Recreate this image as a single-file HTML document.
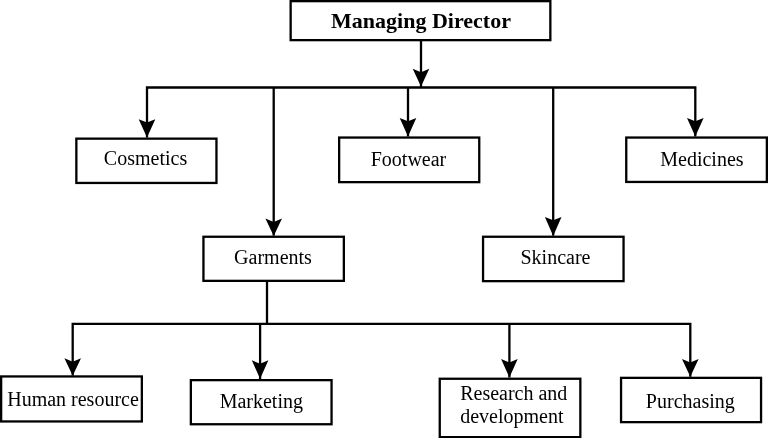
<!DOCTYPE html><html><head><meta charset="utf-8"><style>html,body{margin:0;padding:0;background:#fff;width:768px;height:438px;overflow:hidden}svg{display:block;will-change:transform}text{font-family:"Liberation Serif",serif;fill:#000}</style></head><body>
<svg width="768" height="438" viewBox="0 0 768 438">
<rect x="290.65" y="1.15" width="259.7" height="39.0" fill="none" stroke="#000" stroke-width="2.3"/>
<rect x="76.35000000000001" y="138.65" width="140.09999999999997" height="44.3" fill="none" stroke="#000" stroke-width="2.3"/>
<rect x="339.15" y="137.55" width="140.09999999999997" height="44.60000000000001" fill="none" stroke="#000" stroke-width="2.3"/>
<rect x="626.25" y="137.55" width="140.59999999999997" height="44.39999999999999" fill="none" stroke="#000" stroke-width="2.3"/>
<rect x="203.45000000000002" y="236.75" width="140.39999999999998" height="44.10000000000001" fill="none" stroke="#000" stroke-width="2.3"/>
<rect x="483.04999999999995" y="236.75" width="140.50000000000006" height="44.40000000000002" fill="none" stroke="#000" stroke-width="2.3"/>
<rect x="1.15" y="376.45" width="140.7" height="45.000000000000014" fill="none" stroke="#000" stroke-width="2.3"/>
<rect x="190.85" y="380.15" width="140.7" height="44.09999999999998" fill="none" stroke="#000" stroke-width="2.3"/>
<rect x="439.75" y="378.75" width="140.59999999999997" height="58.39999999999999" fill="none" stroke="#000" stroke-width="2.3"/>
<rect x="621.05" y="377.84999999999997" width="140.00000000000006" height="44.300000000000026" fill="none" stroke="#000" stroke-width="2.3"/>
<path d="M421,41 V87" fill="none" stroke="#000" stroke-width="2.3" stroke-linejoin="miter"/>
<path d="M147,137.5 V87.5 H695.3 V136.5" fill="none" stroke="#000" stroke-width="2.3" stroke-linejoin="miter"/>
<path d="M408,87.5 V136.5" fill="none" stroke="#000" stroke-width="2.3" stroke-linejoin="miter"/>
<path d="M273.7,87.5 V235.6" fill="none" stroke="#000" stroke-width="2.3" stroke-linejoin="miter"/>
<path d="M553.2,87.5 V235.6" fill="none" stroke="#000" stroke-width="2.3" stroke-linejoin="miter"/>
<path d="M267,282 V324" fill="none" stroke="#000" stroke-width="2.3" stroke-linejoin="miter"/>
<path d="M72.7,375.6 V323.9 H690.3 V376.7" fill="none" stroke="#000" stroke-width="2.3" stroke-linejoin="miter"/>
<path d="M260.1,323.9 V379" fill="none" stroke="#000" stroke-width="2.3" stroke-linejoin="miter"/>
<path d="M509.4,323.9 V377.5" fill="none" stroke="#000" stroke-width="2.3" stroke-linejoin="miter"/>
<path d="M421,86.6 L412.70,68.80 L421,72.20 L429.30,68.80 Z" fill="#000"/>
<path d="M147,137.6 L138.70,119.20 L147,122.60 L155.30,119.20 Z" fill="#000"/>
<path d="M408,136.6 L399.70,117.90 L408,121.30 L416.30,117.90 Z" fill="#000"/>
<path d="M695.3,136.6 L687.00,117.90 L695.3,121.30 L703.60,117.90 Z" fill="#000"/>
<path d="M273.7,235.9 L265.40,218.60 L273.7,222.00 L282.00,218.60 Z" fill="#000"/>
<path d="M553.2,235.9 L544.90,216.90 L553.2,220.30 L561.50,216.90 Z" fill="#000"/>
<path d="M72.7,375.8 L64.40,358.30 L72.7,361.70 L81.00,358.30 Z" fill="#000"/>
<path d="M260.1,378.8 L251.80,360.30 L260.1,363.70 L268.40,360.30 Z" fill="#000"/>
<path d="M509.4,377.6 L501.10,359.00 L509.4,362.40 L517.70,359.00 Z" fill="#000"/>
<path d="M690.3,376.8 L682.00,359.00 L690.3,362.40 L698.60,359.00 Z" fill="#000"/>
<text x="421" y="28.0" font-size="22" font-weight="bold" text-anchor="middle">Managing Director</text>
<text x="145.5" y="165.4" font-size="20" font-weight="normal" text-anchor="middle">Cosmetics</text>
<text x="408.5" y="166.4" font-size="20" font-weight="normal" text-anchor="middle">Footwear</text>
<text x="701.9" y="166.4" font-size="20" font-weight="normal" text-anchor="middle">Medicines</text>
<text x="273" y="263.8" font-size="20" font-weight="normal" text-anchor="middle">Garments</text>
<text x="555.5" y="264.1" font-size="20" font-weight="normal" text-anchor="middle">Skincare</text>
<text x="73" y="405.6" font-size="20" font-weight="normal" text-anchor="middle">Human resource</text>
<text x="261.3" y="407.8" font-size="20" font-weight="normal" text-anchor="middle">Marketing</text>
<text x="460.2" y="399.6" font-size="20" font-weight="normal">Research and</text>
<text x="460.2" y="423.2" font-size="20" font-weight="normal">development</text>
<text x="690.3" y="407.7" font-size="20" font-weight="normal" text-anchor="middle">Purchasing</text>
</svg></body></html>
